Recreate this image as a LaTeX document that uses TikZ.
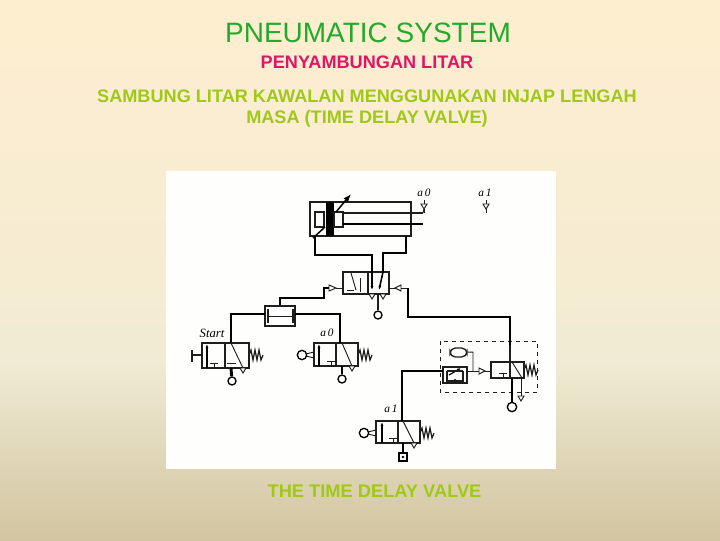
\documentclass[tikz,border=0pt]{standalone}
\usepackage{fontspec}
\setmainfont{Liberation Sans}
\newfontfamily\labelfont{Liberation Serif}
\usetikzlibrary{arrows.meta}
\definecolor{titlegreen}{RGB}{34,170,44}
\definecolor{subpink}{RGB}{222,22,100}
\definecolor{olivetext}{RGB}{160,200,24}
\definecolor{linegray}{RGB}{30,30,30}
\definecolor{paper}{RGB}{254,254,252}
\definecolor{slidelow}{RGB}{210,197,160}
\definecolor{slidemid}{RGB}{240,235,212}
\definecolor{slideup}{RGB}{246,236,210}
\definecolor{slidehigh}{RGB}{254,238,208}
\pgfdeclareverticalshading{slidebg}{100bp}{
  color(0bp)=(slidelow); color(25bp)=(slidelow); color(41.5bp)=(slidemid); color(50bp)=(slideup); color(75bp)=(slidehigh); color(100bp)=(slidehigh)}
\tikzset{
  heading/.style={font=\fontsize{#1}{#1}\selectfont, inner sep=0pt, align=center},
  valve/.style={draw=linegray, line width=1.2pt, inner sep=0pt, minimum width=#1*0.75pt},
  thin line/.style={draw=linegray, line width=0.7pt},
  air/.style={draw=black, line width=2.2pt},
  port/.style={draw=black, circle, line width=1pt, fill=white, minimum size=6pt, inner sep=0pt,
    path picture={\fill (path picture bounding box.center) circle (1pt);}},
  exhaust/.style={draw=linegray, line width=0.7pt, fill=white},
  tag/.style={font=\labelfont\itshape\fontsize{8.5}{8.5}\selectfont, inner sep=0pt}
}
\newcommand{\spring}[2]{%
  \draw[thin line, line width=0.9pt] (#1,#2) -- ++(2,-5) -- ++(2,10) -- ++(2,-10) -- ++(2,10) -- ++(2,-10) -- ++(2,10) -- ++(2,-5);}
\newcommand{\vent}[2]{%
  \draw[exhaust] (#1-3,#2) -- (#1+3,#2) -- (#1,#2+5) -- cycle;}
\newcommand{\pilot}[3]{%
  \draw[exhaust] (#1,#2-3) -- (#1,#2+3) -- (#1+#3,#2) -- cycle;}
\begin{document}
\begin{tikzpicture}[x=0.75pt,y=-0.75pt]
  \useasboundingbox (0,0) rectangle (720,540);
  \shade[shading=slidebg] (0,0) rectangle (720,540);
  \fill[paper] (166,171) rectangle (556,469);

  % texts
  \node[heading=21, text=titlegreen] (title) at (368,33) {PNEUMATIC SYSTEM};
  \node[heading=12, text=subpink, font=\bfseries\fontsize{13.6}{13.6}\selectfont] (sub) at (367,62) {PENYAMBUNGAN LITAR};
  \node[heading=12, text=olivetext, font=\bfseries\fontsize{13.6}{15.7}\selectfont] (body) at (367,109)
    {SAMBUNG LITAR KAWALAN MENGGUNAKAN INJAP LENGAH\\MASA (TIME DELAY VALVE)};
  \node[heading=12, text=olivetext, font=\bfseries\fontsize{13.7}{13.7}\selectfont] (caption) at (374.5,491) {THE TIME DELAY VALVE};

  % cylinder
  \node[valve=101, minimum height=25.5pt, line width=1.4pt] (cyl) at (360.5,219) {};
  \fill[black] (326,202) rectangle (334,236);
  \draw[thin line, line width=1.2pt] (315,212) rectangle (324,227);
  \draw[thin line, line width=1.2pt] (334,212) rectangle (343,227);
  \draw[thin line, line width=1pt] (343,213) -- (423,213);
  \draw[black, line width=1.6pt] (343,224) -- (423,224);
  \draw[-{Latex[length=6pt]}, line width=1.1pt] (336,212) -- (351,194);
  \draw[line width=1.1pt] (313,238) -- (325,227);

  % limit switches
  \node[tag] (a0top) at (424,193) {a\,0};
  \node[tag] (a1top) at (485,193) {a\,1};
  \foreach \n/\xx in {a0stem/424,a1stem/486} {
    \coordinate (\n) at (\xx,200);
    \draw[thin line] (\n) -- ++(0,4);
    \vent{\xx}{204}
    \draw[thin line] (\xx,209) -- (\xx,213);
  }
  \draw[thin line] (423,213) -- (424,209);

  % main valve
  \node[valve=46, minimum height=16.5pt] (main) at (366,283) {};
  \draw[thin line, line width=1.2pt] (368,272) -- (368,294);
  \draw[thin line] (351,273) -- (356,290);
  \draw[thin line] (360,278) -- (360,292);
  \draw[thin line] (347,290) -- (354,290);
  \draw[-{Latex[length=3pt]}, line width=1.2pt] (372,272) -- (372,290);
  \draw[-{Latex[length=3pt]}, line width=1.2pt] (383,272) -- (379,290);
  \vent{372}{294}
  \vent{383}{294}
  \coordinate (mainL) at (372,272);
  \coordinate (mainR) at (383,272);
  \coordinate (cylL) at (315,236);
  \coordinate (cylR) at (406,236);
  \draw[air] (cylL) -- (315,255) -- (372,255) -- (mainL);
  \draw[air] (cylR) -- (406,253) -- (383,253) -- (mainR);
  \node[port] (pmain) at (378,315) {};
  \draw[thin line, line width=0.8pt] (378,294) -- (pmain);

  % pilots on the main valve
  \pilot{329}{288}{7}
  \pilot{401}{288}{-6}
  \draw[thin line] (336,288) -- (343,288);
  \draw[thin line] (389,288) -- (395,288);

  % shuttle valve
  \node[valve=30, minimum height=15pt, fill=white] (shuttle) at (280,316) {};
  \draw[thin line, line width=1.1pt] (268,309) -- (268,323);
  \draw[thin line, line width=1.1pt] (293,309) -- (293,323);
  \draw[thin line] (268,316) -- (293,316);
  \draw[air, line width=1.8pt] (shuttle.north) -- (280,298) -- (324,298) -- (324,288) -- (329,288);

  % three lower valves + timer valve
  \foreach \n/\cx/\cy/\w/\h/\dv in {start/225.5/355.5/47/25/225,
      aa/336/354.5/44/23/336, ab/398/432/44/22/398, timer/507.5/370/33/16/510} {
    \node[valve=\w, minimum height=\h*0.75pt] (\n) at (\cx,\cy) {};
    \draw[thin line, line width=1pt] (\dv,\cy-\h/2) -- (\dv,\cy+\h/2);
  }

  % start valve
  \draw[thin line, line width=1.2pt] (192,355) -- (202,355);
  \draw[thin line, line width=1.4pt] (192,350) -- (192,362);
  \draw[-{Latex[length=3pt]}, line width=1pt] (207,368) -- (207,344);
  \draw[thin line] (231,343) -- (243,368);
  \draw[thin line] (214,367) -- (214,363) (210,363) -- (218,363);
  \draw[thin line] (227,363) -- (236,363);
  \vent{243}{368}
  \spring{249}{355}
  \node[tag, font=\labelfont\itshape\fontsize{9.5}{9.5}\selectfont] (lstart) at (212,333) {Start};
  \node[port] (pstart) at (232,381) {};
  \draw[air] (231,368) -- (pstart);

  % a0 valve
  \node[port, minimum size=7pt] (rollA) at (302,355) {};
  \draw[thin line] (rollA) -- (314,352) (rollA) -- (314,358);
  \draw[-{Latex[length=3pt]}, line width=1pt] (319,366) -- (319,344);
  \draw[thin line] (342,343) -- (352,366);
  \draw[thin line] (331,365) -- (331,361) (327,361) -- (335,361);
  \vent{352}{366}
  \spring{358}{355}
  \node[tag] (laa) at (327,333) {a\,0};
  \node[port] (paa) at (342,379) {};
  \draw[air] (342,366) -- (paa);

  % a1 valve
  \node[port, minimum size=7pt] (rollB) at (364,433) {};
  \draw[thin line] (rollB) -- (376,430) (rollB) -- (376,436);
  \draw[-{Latex[length=3pt]}, line width=1pt] (382,443) -- (382,422);
  \draw[thin line] (403,421) -- (414,443);
  \draw[thin line] (393,442) -- (393,438) (389,438) -- (397,438);
  \vent{414}{443}
  \spring{420}{433}
  \node[tag] (lab) at (391,409) {a\,1};
  \node[draw=black, line width=1pt, fill=white, minimum size=6pt, inner sep=0pt] (pab) at (403,457) {};
  \fill (pab) circle (1pt);
  \draw[air] (403,443) -- (pab);

  % left and right branches into shuttle
  \coordinate (startP) at (231,343);
  \coordinate (aaP) at (340,343);
  \draw[air] (startP) -- (231,314) -- (265,314);
  \draw[air] (295,314) -- (340,314) -- (aaP);

  % delay unit
  \draw[thin line, dashed] (440,341) rectangle (537,392);
  \node[draw=linegray, line width=1pt, rounded corners=4pt, minimum width=12.75pt, minimum height=6.75pt, inner sep=0pt] (tank) at (458.5,352.5) {};
  \node[valve=24, minimum height=12pt, line width=1.1pt] (throttle) at (455,375) {};
  \draw[thin line, line width=1.1pt] (447,371) -- (447,381) -- (463,381) -- (463,371);
  \draw[-{Latex[length=3pt]}, line width=0.9pt] (449,375) -- (461,368);
  \draw[thin line, line width=1.1pt] (447,371) -- (463,371);
  \draw[thin line] (455,381) circle (1.6);
  \draw[thin line] (tank) -- (473,352) -- (473,371);
  \draw[thin line] (throttle.east |- 0,371) -- (479,371);
  \pilot{479}{371}{6}
  \draw[thin line] (485,371) -- (491,371);
  \draw[thin line] (512,362) -- (522,378);
  \draw[thin line] (503,377) -- (503,373) (499,373) -- (507,373);
  \spring{524}{370}
  \draw[thin line] (521,378) -- (521,396);
  \vent{521}{396}
  \node[port, minimum size=7pt] (ptimer) at (512,407) {};
  \draw[air] (512,378) -- (ptimer);

  % long lines
  \coordinate (pilotR) at (401,288);
  \coordinate (timerT) at (510,362);
  \draw[thin line] (pilotR) -- (408,288);
  \draw[air] (408,288) -- (408,317) -- (510,317) -- (510,345);
  \draw[thin line, line width=1.2pt] (510,345) -- (timerT);
  \coordinate (abT) at (402,421);
  \draw[air] (abT) -- (402,371) -- (443,371);
\end{tikzpicture}
\end{document}
